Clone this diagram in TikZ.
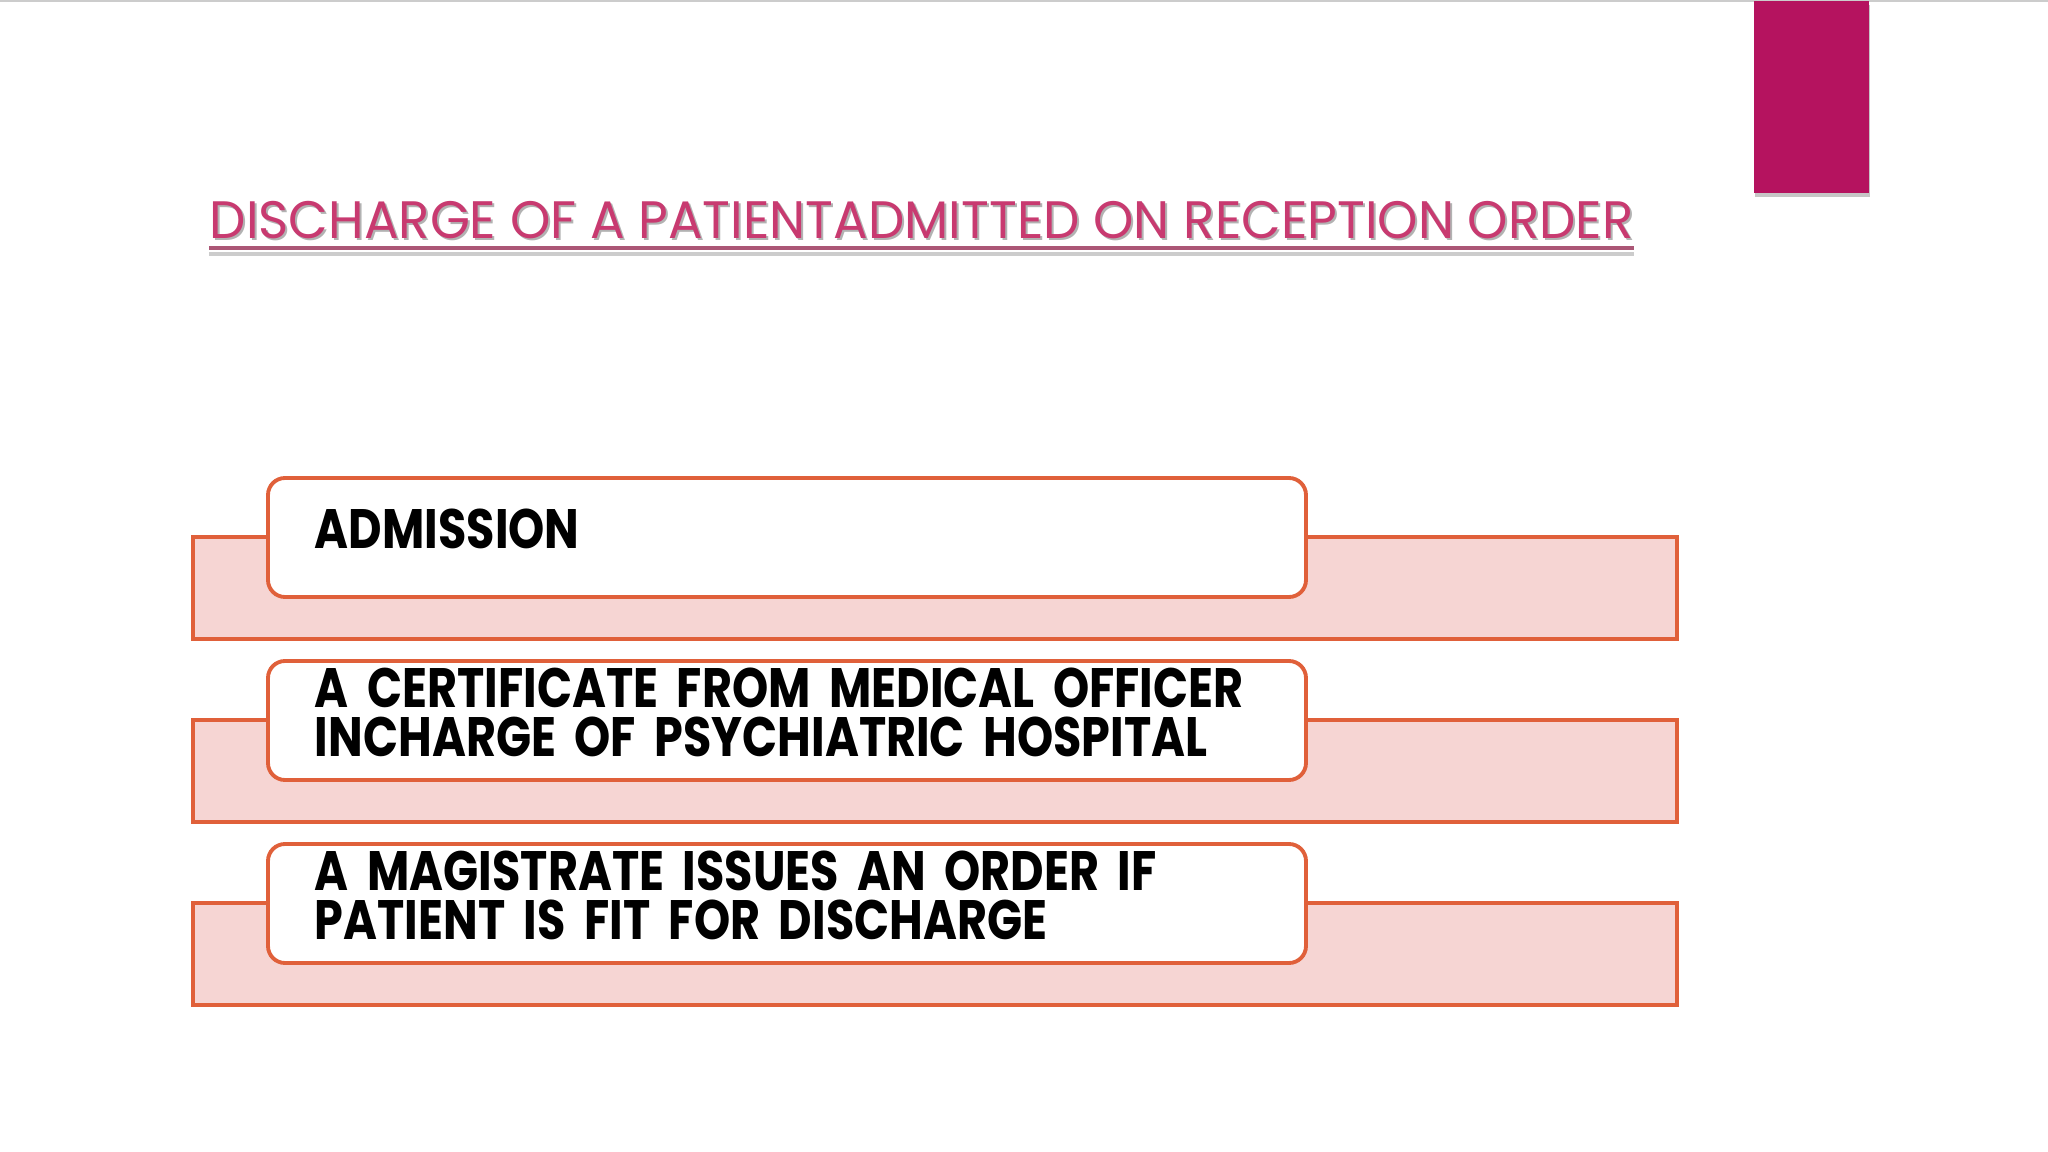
\documentclass[tikz,border=0pt]{standalone}
\usepackage{fontspec}
\usepackage{tikz}
\usetikzlibrary{positioning}
\newfontfamily\boxfont{Poppins}[FakeStretch=0.83]
\newfontfamily\titlefont{Poppins}[FakeStretch=0.975]
\definecolor{rimcol}{HTML}{E0603A}
\definecolor{bandcol}{HTML}{F6D5D3}
\definecolor{headcol}{HTML}{C83A70}
\definecolor{tabcol}{HTML}{B5135F}

\begin{document}
\begin{tikzpicture}[
	band/.style={draw=rimcol, line width=1.1pt, fill=bandcol, minimum width=14.84cm, minimum height=1.02cm},
	card/.style={draw=rimcol, line width=1.1pt, fill=white, rounded corners=0.17cm, minimum width=10.38cm, minimum height=1.19cm,
		text width=9.44cm, inner xsep=0.47cm, inner ysep=0pt, text depth=0.17cm, align=left, font=\boxfont\bfseries\fontsize{15.8}{13.8}\selectfont}
	]
	\useasboundingbox (0,0) rectangle (20.48,-11.52);
	\draw[gray!40, line width=0.6pt] (0,-0.01) -- (20.48,-0.01);
	
	% corner tab
	\fill[gray!45] (17.55,-0.05) rectangle (18.70,-1.97);
	\node[fill=tabcol, inner sep=0, minimum width=1.15cm, minimum height=1.92cm, anchor=north west] (tab) at (17.53,0) {};
	
	% heading
	\node[anchor=base west, inner sep=0, text=gray!60] at (2.11,-2.41) {\titlefont\fontsize{15}{18}\selectfont DISCHARGE OF A PATIENTADMITTED ON RECEPTION ORDER};
	\node[anchor=base west, inner sep=0, text=headcol] (head) at (2.09,-2.39) {\titlefont\fontsize{15}{18}\selectfont DISCHARGE OF A PATIENTADMITTED ON RECEPTION ORDER};
	\draw[headcol!60!gray, line width=0.9pt] ([yshift=-0.09cm]head.base west) -- ([yshift=-0.09cm]head.base east);
	\draw[gray!40, line width=0.9pt] ([yshift=-0.15cm]head.base west) -- ([yshift=-0.15cm]head.base east);
	
	\node[band] (b1) at (9.35,-5.88) {};
	\node[band] (b2) at (9.35,-7.71) {};
	\node[band] (b3) at (9.35,-9.54) {};
	
	\node[card] (adm) at (7.87,-5.375) {ADMISSION};
	\node[card, text depth=0.65cm] (cert) at (7.87,-7.205) {A CERTIFICATE FROM MEDICAL OFFICER\\INCHARGE OF PSYCHIATRIC HOSPITAL};
	\node[card, text depth=0.65cm] (mag) at (7.87,-9.035) {A MAGISTRATE ISSUES AN ORDER IF\\PATIENT IS FIT FOR DISCHARGE};
\end{tikzpicture}
\end{document}
